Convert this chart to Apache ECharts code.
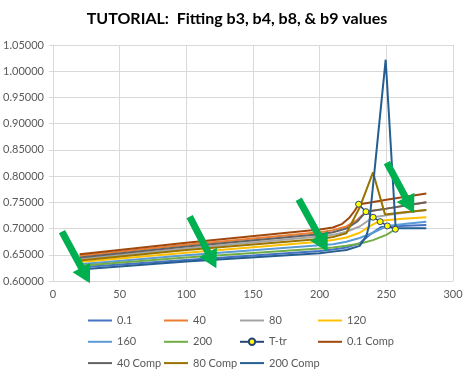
<!DOCTYPE html>
<html>
<head>
<meta charset="utf-8">
<script src="https://cdn.jsdelivr.net/npm/echarts@6/dist/echarts.min.js"></script>
<style>
  html, body { margin: 0; padding: 0; background: #fff; }
  #chart { width: 474px; height: 377px; }
</style>
</head>
<body>
<div id="chart"></div>
<script>
// temperature / specific volume pairs
const p01 = [[20, 0.626], [100, 0.640], [200, 0.657], [210, 0.660], [220, 0.664], [230, 0.672], [238, 0.689], [246, 0.703], [260, 0.705], [280, 0.707]]
const p40 = [[20, 0.648], [100, 0.669], [200, 0.693], [210, 0.697], [220, 0.704], [228, 0.716], [234.7, 0.732], [250, 0.738], [280, 0.750]]
const p80 = [[20, 0.642], [100, 0.662], [200, 0.685], [210, 0.688], [220, 0.694], [230, 0.704], [240.1, 0.7216], [260, 0.729], [280, 0.7355]]
const p120 = [[20, 0.636], [100, 0.654], [200, 0.675], [210, 0.678], [220, 0.683], [230, 0.692], [238, 0.705], [245.4, 0.715], [260, 0.718], [280, 0.7216]]
const p160 = [[20, 0.632], [100, 0.649], [200, 0.668], [210, 0.670], [220, 0.675], [230, 0.682], [240, 0.692], [250.8, 0.705], [265, 0.709], [280, 0.713]]
const p200 = [[20, 0.629], [100, 0.645], [200, 0.662], [210, 0.664], [220, 0.667], [230, 0.671], [240, 0.678], [250, 0.688], [256.8, 0.6987]]
const tTr = [[229.2, 0.7464], [234.7, 0.7322], [240.1, 0.7216], [245.4, 0.7132], [250.8, 0.7050], [256.8, 0.6987]]
const c01 = [[20, 0.651], [100, 0.673], [200, 0.698], [210, 0.702], [217, 0.709], [222, 0.720], [226, 0.733], [229.2, 0.746], [250, 0.755], [280, 0.767]]
const c40 = [[20, 0.645], [100, 0.666], [200, 0.689], [210, 0.693], [220, 0.700], [228, 0.713], [234.7, 0.732], [250, 0.738], [280, 0.750]]
const c80 = [[20, 0.639], [100, 0.659], [200, 0.680], [210, 0.684], [220, 0.691], [230, 0.740], [240, 0.807], [249, 0.727], [260, 0.730], [280, 0.7355]]
const c200 = [[20, 0.622], [100, 0.637], [200, 0.653], [210, 0.656], [220, 0.659], [230, 0.667], [235, 0.686], [237, 0.705], [249.5, 1.022], [257, 0.7006], [280, 0.7006]]

// green annotation arrows: [fromT, fromV, toT, toV]
const arrows = [
  [6.7, 0.6941, 27.7, 0.5956],
  [102.5, 0.7227, 122.5, 0.6242],
  [184.3, 0.7559, 206, 0.6559],
  [250.4, 0.8258, 270.8, 0.7292]
]

const font = 'Lato, "Liberation Sans", sans-serif'
const grey = '#595959'

const line = (name, data, color) => ({
  name, type: 'line', data, symbol: 'none',
  lineStyle: { color, width: 2 }, itemStyle: { color }
})

const series = [
  line('0.1', p01, '#4472C4'),
  line('40', p40, '#ED7D31'),
  line('80', p80, '#A5A5A5'),
  line('120', p120, '#FFC000'),
  line('160', p160, '#5B9BD5'),
  line('200', p200, '#70AD47'),
  {
    name: 'T-tr', type: 'line', data: tTr, symbol: 'circle', symbolSize: 6,
    lineStyle: { color: '#264478', width: 1.5 },
    itemStyle: { color: '#FFFF00', borderColor: '#264478', borderWidth: 1 }
  },
  line('0.1 Comp', c01, '#9E480E'),
  line('40 Comp', c40, '#636363'),
  line('80 Comp', c80, '#997300'),
  line('200 Comp', c200, '#255E91'),
  {
    type: 'custom', data: arrows, clip: false, silent: true, z: 10,
    encode: { x: [0, 2], y: [1, 3] },
    renderItem: (params, api) => {
      const a = api.coord([api.value(0), api.value(1)])
      const b = api.coord([api.value(2), api.value(3)])
      const dx = b[0] - a[0], dy = b[1] - a[1]
      const len = Math.sqrt(dx * dx + dy * dy)
      const ux = dx / len, uy = dy / len
      const nx = -uy, ny = ux
      const H = 18, W = 10, S = 3.5
      const bx = b[0] - ux * H, by = b[1] - uy * H
      return {
        type: 'polygon',
        shape: {
          points: [
            [a[0] + nx * S, a[1] + ny * S],
            [bx + nx * S, by + ny * S],
            [bx + nx * W, by + ny * W],
            [b[0], b[1]],
            [bx - nx * W, by - ny * W],
            [bx - nx * S, by - ny * S],
            [a[0] - nx * S, a[1] - ny * S]
          ]
        },
        style: { fill: '#00B050' }
      }
    }
  }
]

const legendCols = [
  ['0.1', '160', '40 Comp'],
  ['40', '200', '80 Comp'],
  ['80', 'T-tr', '200 Comp'],
  ['120', '0.1 Comp']
]
const colLeft = [87, 163, 239, 317]

// plain line icons, only T-tr keeps its marker
const legend = legendCols.map((names, i) => ({
  data: names.map((name) => name === 'T-tr'
    ? { name, itemStyle: { opacity: 1 } }
    : { name, itemStyle: { opacity: 0 } }),
  orient: 'vertical', left: colLeft[i], top: 315, padding: 0,
  itemWidth: 24, itemHeight: 8, itemGap: 10.3,
  textStyle: { color: grey, fontSize: 11, fontFamily: font },
  selectedMode: false
}))

const chart = echarts.init(document.getElementById('chart'))
chart.setOption({
  animation: false,
  title: {
    text: 'TUTORIAL:  Fitting b3, b4, b8, & b9 values',
    left: 'center', top: 6,
    textStyle: { color: '#000', fontSize: 16, fontWeight: 'bold', fontFamily: font }
  },
  legend,
  grid: { left: 53, right: 21, top: 45, bottom: 96 },
  xAxis: {
    type: 'value', min: 0, max: 300, interval: 50,
    axisLine: { show: true, lineStyle: { color: '#D9D9D9' } },
    axisTick: { show: false },
    splitLine: { show: true, lineStyle: { color: '#D9D9D9' } },
    axisLabel: { color: grey, fontSize: 11, fontFamily: font, margin: 8 }
  },
  yAxis: {
    type: 'value', min: 0.6, max: 1.05, interval: 0.05,
    axisLine: { show: true, lineStyle: { color: '#D9D9D9' } },
    axisTick: { show: true, length: 4, lineStyle: { color: '#D9D9D9' } },
    splitLine: { show: true, lineStyle: { color: '#D9D9D9' } },
    axisLabel: {
      color: grey, fontSize: 11, fontFamily: font, margin: 9,
      formatter: (v) => v.toFixed(5)
    }
  },
  series
})
</script>
</body>
</html>
